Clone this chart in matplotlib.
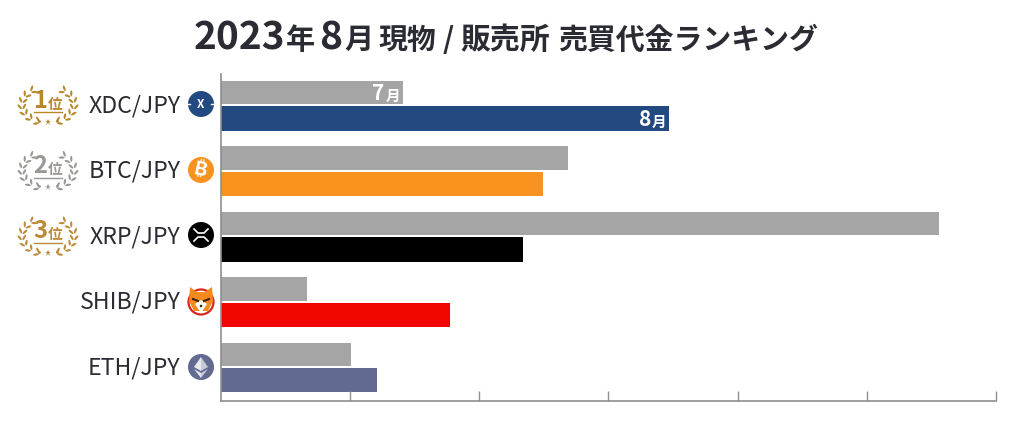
import numpy as np
import matplotlib
matplotlib.use('Agg')
import matplotlib.pyplot as plt
from matplotlib.patches import Circle, Ellipse, Polygon

plt.rcParams['font.family'] = ['Noto Sans CJK JP', 'DejaVu Sans']

# Data (axis has no labels, one tick step = 1 unit)
pairs = ['XDC/JPY', 'BTC/JPY', 'XRP/JPY', 'SHIB/JPY', 'ETH/JPY']
july = [1.41, 2.69, 5.56, 0.67, 1.01]
august = [3.47, 2.495, 2.34, 1.775, 1.21]
august_colors = ['#234a80', '#f7931e', '#000000', '#f20500', '#636a91']
ranks = ['1', '2', '3']
rank_colors = ['#b8862b', '#9b9894', '#bd8a3a']

W, H = 1015, 435
TEXT = '#2b2c33'
fig = plt.figure(figsize=(W / 100, H / 100), dpi=100)

# Main chart
ax = fig.add_axes([220.5 / W, 1 - 402 / H, (996 - 220.5) / W, (402 - 75) / H])
y = np.arange(len(pairs))
ax.barh(y - 0.2, july, height=0.36, color='#a5a5a5')
ax.barh(y + 0.195, august, height=0.37, color=august_colors)
ax.set_xlim(0, 6)
ax.set_ylim(4.51, -0.483)
ax.set_yticks([])
ax.set_xticks(range(1, 7))
ax.set_xticklabels([])
ax.tick_params(axis='x', direction='in', length=7, width=1, color='#8f8f8f')
for s in ['top', 'right']:
    ax.spines[s].set_visible(False)
for s in ['left', 'bottom']:
    ax.spines[s].set_color('#8f8f8f')
    ax.spines[s].set_linewidth(1.2)


def month_tag(x, ypos, digit):
    ax.annotate('月', (x, ypos), xytext=(-2, -2), textcoords='offset points', color='white',
                fontsize=10.5, fontweight='bold', ha='right', va='center')
    ax.annotate(digit, (x, ypos), xytext=(-13, 0), textcoords='offset points', color='white',
                fontsize=15, fontweight='bold', ha='right', va='center')


month_tag(july[0], -0.2, '7')
month_tag(august[0], 0.195, '8')

# Overlay in image pixels for title, labels and icons
ov = fig.add_axes([0, 0, 1, 1], zorder=5)
ov.set_xlim(0, W)
ov.set_ylim(H, 0)
ov.axis('off')
ov.patch.set_alpha(0)

# Title pieces
title_parts = [(194, 38, '2023', 28), (286, 40, '年', 21), (319, 38, '8', 28), (344, 40, '月', 21),
               (378, 40, '現物', 20.8), (443, 40, '/', 20.8), (460, 40, '販売所', 21.5),
               (558, 40, '売買代金ランキング', 20.8)]
for tx, ty, s, fs in title_parts:
    ov.text(tx, ty, s, fontsize=fs, fontweight='bold', color=TEXT, ha='left', va='center')


def laurel(cx, cy, color):
    for side in (-1, 1):
        for i in range(7):
            a = np.radians(-55 + i * 20)
            ang = np.degrees(a)
            for off in (-2.2, 2.4):
                px = cx + side * (26 + off) * np.cos(a)
                py = cy + (18 + off) * np.sin(a)
                tilt = side * (ang + (35 if off > 0 else -35))
                ov.add_patch(Ellipse((px, py), 2.2, 6, angle=tilt, color=color, lw=0))


for i, (r, c) in enumerate(zip(ranks, rank_colors)):
    cy = 106 + 65.5 * i
    laurel(48, cy, c)
    ov.text(40, cy - 5.5, r, fontsize=17, fontweight='bold', color=c, ha='center', va='center')
    ov.text(55.5, cy - 2.5, '位', fontsize=10.5, fontweight='bold', color=c, ha='center', va='center')
    ov.plot([34, 62], [cy + 7, cy + 7], color=c, lw=1)
    ov.plot([39, 57], [cy + 15.5, cy + 15.5], ls='none', marker='o', ms=2, color=c, mew=0)
    ov.plot([48], [cy + 16.5], ls='none', marker='*', ms=5, color=c, mew=0)

for i, p in enumerate(pairs):
    ov.text(180.5, 106 + 65.5 * i, p, fontsize=16.6, color=TEXT, ha='right', va='center')

R = 13
# XDC
ov.add_patch(Circle((201, 105), R, color='#234a80', lw=0))
ov.plot([188, 190.5], [105, 105], color='white', lw=1)
ov.plot([211.5, 214], [105, 105], color='white', lw=1)
ov.text(201, 104.5, 'X', fontsize=8.5, fontweight='bold', color='white', ha='center', va='center')
# BTC
ov.add_patch(Circle((201, 171), R, color='#f7931e', lw=0))
ov.text(201, 170.5, '₿', fontsize=14, fontweight='bold', color='white', ha='center', va='center',
        rotation=-12, family=['Inter', 'Noto Sans', 'Roboto', 'Open Sans', 'Lato', 'DejaVu Sans'])
# XRP
ov.add_patch(Circle((201, 236), R, color='#000000', lw=0))
ov.plot([194, 198, 204, 208], [230, 234, 234, 230], color='white', lw=1.2)
ov.plot([194, 198, 204, 208], [242, 238, 238, 242], color='white', lw=1.2)
# SHIB
ov.add_patch(Circle((201, 303), 12.5, facecolor='white', edgecolor='#d8261c', lw=1.6))
ov.add_patch(Polygon([(189, 302), (190, 288), (197, 293), (205, 293), (212, 288), (213, 302), (208, 312), (194, 312)],
                     color='#f28a1e', lw=0))
ov.add_patch(Polygon([(195, 305), (201, 301), (207, 305), (201, 314)], color='white', lw=0))
ov.plot([193, 198], [300, 302], color='#3a2010', lw=1.5)
ov.plot([204, 209], [302, 300], color='#3a2010', lw=1.5)
ov.add_patch(Circle((201, 307), 1.3, color='#3a2010', lw=0))
# ETH
ov.add_patch(Circle((201, 368), R, color='#636a91', lw=0))
ov.add_patch(Polygon([(201, 358), (194, 368), (201, 372)], color='#e8e8ee', lw=0))
ov.add_patch(Polygon([(201, 358), (208, 368), (201, 372)], color='#c8c9d6', lw=0))
ov.add_patch(Polygon([(194, 370), (201, 379), (201, 374)], color='#e8e8ee', lw=0))
ov.add_patch(Polygon([(208, 370), (201, 379), (201, 374)], color='#c8c9d6', lw=0))

fig.savefig('out.png', dpi=100)
